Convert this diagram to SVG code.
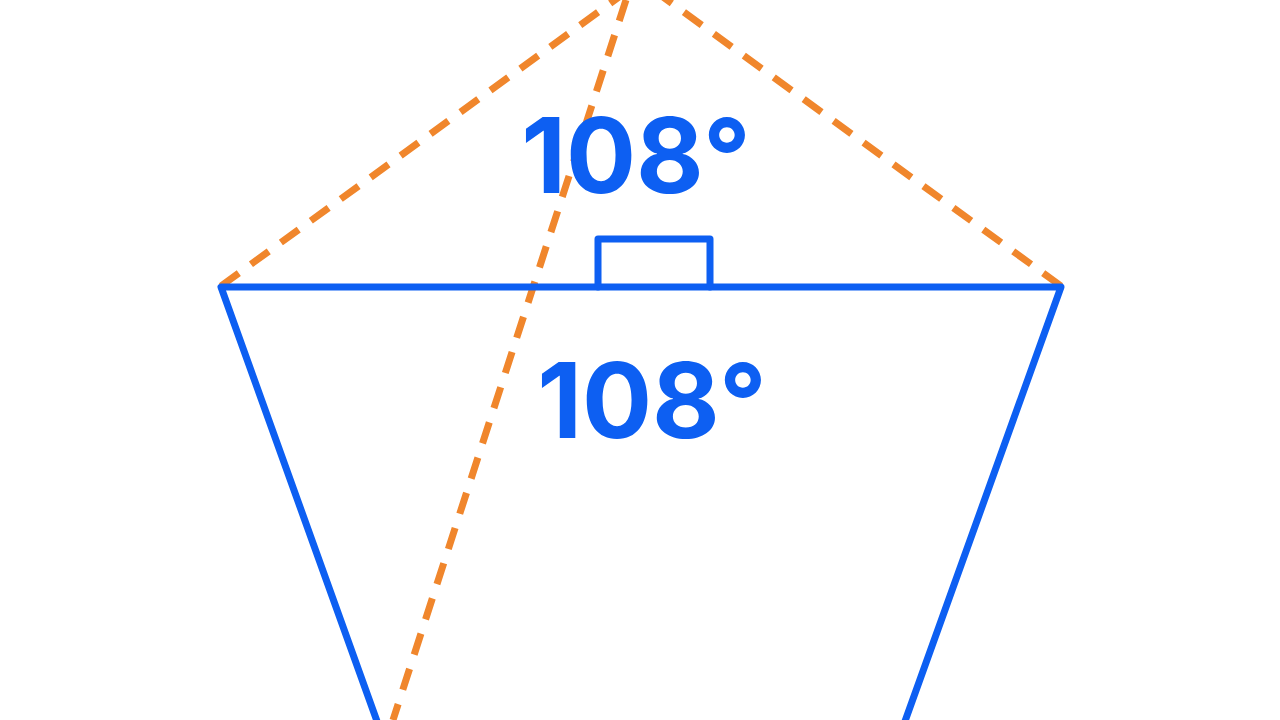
<svg xmlns="http://www.w3.org/2000/svg" width="1280" height="720" viewBox="0 0 1280 720">
<style>
.blue{fill:none;stroke:#0d5ff2;stroke-width:7;stroke-linejoin:round;stroke-linecap:round}
.dash{fill:none;stroke:#f0862c;stroke-width:7;stroke-dasharray:22 15}
.lbl{font-family:Inter,"Noto Sans","Liberation Sans",sans-serif;font-weight:700;font-size:104px;fill:#0d5ff2;text-anchor:middle}
</style>
<rect width="1280" height="720" fill="#ffffff"/>
<g id="connectors">
<line class="dash" x1="221" y1="286" x2="641" y2="-19"/>
<line class="dash" x1="1061" y1="286" x2="641" y2="-19"/>
<line class="dash" x1="626" y1="0" x2="393" y2="720"/>
</g>
<g id="shape">
<polyline class="blue" points="378,724 221,287 1061,287 904,724"/>
<path class="blue" d="M598,287 V239 H710 V287"/>
</g>
<g id="label-top"><text class="lbl" x="636" y="193">108°</text></g>
<g id="label-bottom"><text class="lbl" x="652" y="438">108°</text></g>
</svg>
